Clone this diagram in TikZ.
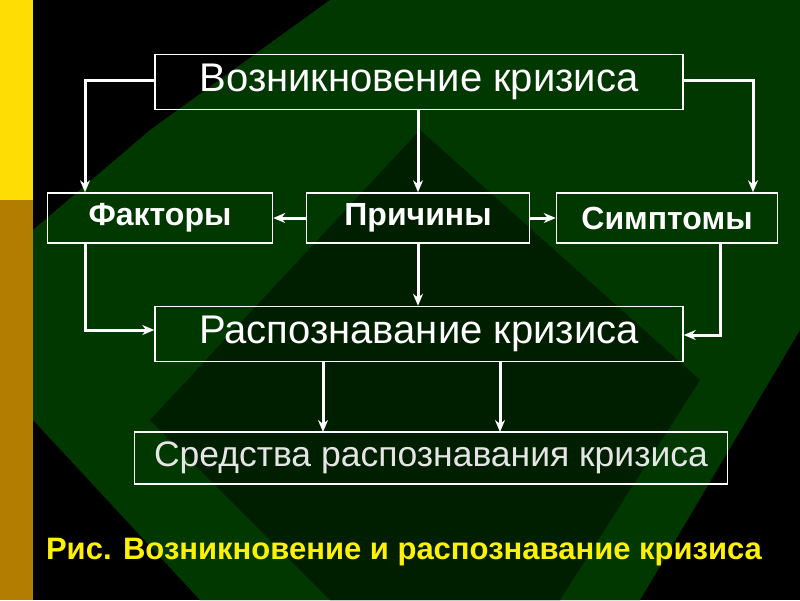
\documentclass[tikz,border=0pt]{standalone}
\usepackage{fontspec}
\setmainfont{Liberation Sans}
\usetikzlibrary{arrows.meta}
\begin{document}
\begin{tikzpicture}[x=1pt,y=-1pt,
  box/.style={draw=white,line width=1.5pt,text=white,font=\fontsize{40}{44}\selectfont},
  bbox/.style={box,font=\fontsize{32}{36}\selectfont\bfseries},
  arr/.style={draw=white,line width=3pt,-{Stealth[length=12pt,width=10pt]}}]
\useasboundingbox (0,0) rectangle (800,600);
\fill[black] (0,0) rectangle (800,600);
\fill[green!22!black] (330,0)--(800,0)--(800,330)--(640,600)--(200,600)--(33,420)--(33,230)--(150,130)--cycle;
\fill[green!12!black] (420,130)--(700,380)--(560,600)--(330,600)--(150,420)--cycle;
\fill[yellow!80!orange] (0,0) rectangle (33,200);
\fill[orange!60!yellow!70!black] (0,200) rectangle (33,600);
\node[box,minimum width=528,minimum height=55] (top) at (419,82) {Возникновение кризиса};
\node[bbox,minimum width=225,minimum height=50] (f) at (160,218) {Факторы};
\node[bbox,minimum width=223,minimum height=50] (p) at (418,218) {Причины};
\node[bbox,minimum width=221,minimum height=50] (s) at (667,218) {Симптомы};
\node[box,minimum width=528,minimum height=55] (r) at (419,334) {Распознавание кризиса};
\node[box,minimum width=593,minimum height=52,text=white!90!black,font=\fontsize{35.5}{40}\selectfont] (m) at (431,458) {Средства распознавания кризиса};
\node[text=yellow,font=\fontsize{31}{34}\selectfont\bfseries] (cap) at (404,552) {Рис. Возникновение и распознавание кризиса};
\coordinate (a1) at (85,80); \coordinate (a2) at (753,80);
\coordinate (b1) at (85,330); \coordinate (b2) at (720,335);
\draw[arr] (top.west|-a1) -- (a1) -- (a1|-f.north);
\draw[arr] (top.east|-a2) -- (a2) -- (a2|-s.north);
\draw[arr] (top.south-|p) -- (p.north);
\draw[arr] (p.west) -- (f.east);
\draw[arr] (p.east) -- (s.east-|s.west);
\draw[arr] (b1|-f.south) -- (b1) -- (b1-|r.west);
\draw[arr] (p.south) -- (r.north-|p);
\draw[arr] (b2|-s.south) -- (b2) -- (b2-|r.east);
\draw[arr] (323,362) -- (323,432);
\draw[arr] (500,362) -- (500,432);
\end{tikzpicture}
\end{document}
